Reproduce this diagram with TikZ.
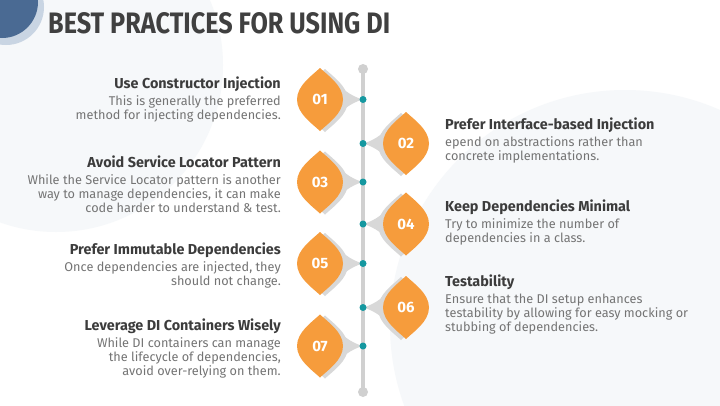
\documentclass[tikz,border=0pt]{standalone}
\usepackage{fontspec}
\setmainfont{Fira Sans}
\usepackage{graphicx}
\definecolor{orange1}{HTML}{F69C3C}
\definecolor{teal1}{HTML}{1598A0}
\definecolor{shadowgray}{HTML}{D8D8D8}
\definecolor{linegray}{HTML}{D0D0D0}
\definecolor{darkblue}{HTML}{4A6A93}
\definecolor{ringblue}{HTML}{C9D5E3}
\definecolor{bgcirc}{HTML}{F6F8FA}
\definecolor{titlegray}{HTML}{404040}
\definecolor{headgray}{HTML}{3C3C3C}
\definecolor{bodygray}{HTML}{747474}
\tikzset{
  leafpic/.pic={\path[pic actions] (0,-31.5) .. controls (-8,-24) and (-23,-14) .. (-23,0) .. controls (-23,14) and (-8,24) .. (0,31.5) .. controls (8,24) and (23,14) .. (23,0) .. controls (23,-14) and (8,-24) .. (0,-31.5) -- cycle;},
  numtxt/.style={text=white, font=\bfseries\fontsize{15}{15}\selectfont, inner sep=0},
  dotstyle/.style={circle, fill=teal1, inner sep=0, minimum size=7pt},
  capstyle/.style={circle, fill=linegray, inner sep=0, minimum size=10pt},
  lefttxt/.style={anchor=east, align=right, inner sep=0, text=bodygray, font=\fontsize{12.7}{14}\selectfont},
  righttxt/.style={anchor=west, align=left, inner sep=0, text=bodygray, font=\fontsize{12.7}{14}\selectfont}
}
\newcommand\hd[1]{{\color{headgray}\bfseries\fontsize{14.4}{14}\selectfont #1}\\[3pt]}
\begin{document}
\begin{tikzpicture}[x=1pt,y=-1pt]
\useasboundingbox (0,0) rectangle (720,405);
\begin{scope}
  \clip (0,0) rectangle (720,405);
  \fill[white] (0,0) rectangle (720,405);
  \fill[bgcirc] (56,65) circle[radius=167];
  \fill[bgcirc] (625,325) circle[radius=235];
  \fill[ringblue] (6,7) circle[radius=38];
  \fill[darkblue] (2,2) circle[radius=36];
\end{scope}
\node[anchor=base west, inner sep=0, text=titlegray] (title) at (48,33)
  {\resizebox{342pt}{21pt}{\bfseries BEST PRACTICES FOR USING DI}};
% timeline
\node[capstyle] (ltop) at (363,69) {};
\node[capstyle] (lbot) at (363,392) {};
\draw[line width=4pt, linegray] (ltop.center) -- (lbot.center);
% items
\foreach \n/\y/\s in {01/99.5/-1,02/143.5/1,03/182/-1,04/224/1,05/263.5/-1,06/307.5/1,07/346/-1}{
  \begin{scope}[shift={(363,\y)}, xscale=\s]
    \pic[fill=shadowgray] at (38,1) {leafpic};
    \fill[shadowgray] (36,-27) .. controls (24,-12) and (12,-3) .. (0,0) .. controls (12,3) and (24,12) .. (36,27) -- cycle;
    \pic[fill=orange1] at (43,0) {leafpic};
    \node[numtxt] (n\n) at (43,0) {\n};
    \node[dotstyle] (d\n) at (0,0) {};
  \end{scope}
}
% texts
\node[lefttxt] (t01) at (281,99.5) {\hd{Use Constructor Injection}This is generally the preferred\\method for injecting dependencies.};
\node[lefttxt] (t03) at (281,184) {\hd{Avoid Service Locator Pattern}While the Service Locator pattern is another\\way to manage dependencies, it can make\\code harder to understand \& test.};
\node[lefttxt] (t05) at (281,265.5) {\hd{Prefer Immutable Dependencies}Once dependencies are injected, they\\should not change.};
\node[lefttxt] (t07) at (281,348.5) {\hd{Leverage DI Containers Wisely}While DI containers can manage\\the lifecycle of dependencies,\\avoid over-relying on them.};
\node[righttxt] (t02) at (445,140.5) {\hd{Prefer Interface-based Injection}epend on abstractions rather than\\concrete implementations.};
\node[righttxt] (t04) at (445,222.5) {\hd{Keep Dependencies Minimal}Try to minimize the number of\\dependencies in a class.};
\node[righttxt] (t06) at (445,305) {\hd{Testability}Ensure that the DI setup enhances\\testability by allowing for easy mocking or\\stubbing of dependencies.};
\end{tikzpicture}
\end{document}
